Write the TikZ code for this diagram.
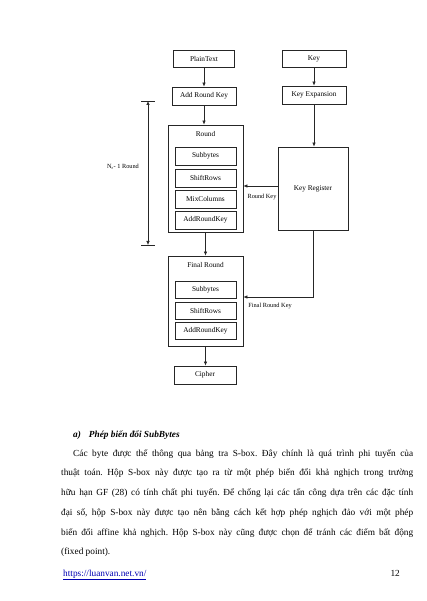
\documentclass[tikz,border=0pt]{standalone}
\usepackage{fontspec}
\setmainfont{Liberation Serif}
\usetikzlibrary{arrows.meta,positioning}
\frenchspacing
\begin{document}
\begin{tikzpicture}[x=1pt,y=-1pt,
  box/.style={draw=black!85,line width=0.8pt,minimum height=17pt,inner sep=0pt,font=\fontsize{7.3}{8}\selectfont},
  outer/.style={draw=black!85,line width=0.8pt,inner sep=0pt},
  lbl/.style={font=\fontsize{7.3}{8}\selectfont,inner sep=0pt},
  small/.style={font=\fontsize{6.3}{7}\selectfont,inner sep=0pt},
  arr/.style={draw=black!85,line width=0.6pt,-{Latex[length=4pt,width=3.5pt]}},
  ln/.style={draw=black!85,line width=0.6pt},
  body/.style={font=\fontsize{9.3}{11}\selectfont,inner sep=0pt,anchor=base west}]
\useasboundingbox (0,0) rectangle (426,601);
% top row
\node[box,minimum width=61pt] (pt) at (204,59) {PlainText};
\node[box,minimum width=64pt] (key) at (314,59) {Key};
\node[box,minimum width=64pt,minimum height=18pt] (ark) at (204,96) {Add Round Key};
\node[box,minimum width=64pt,minimum height=18pt] (kexp) at (314,95) {Key Expansion};
% Round
\node[outer,minimum width=75pt,minimum height=107pt] (round) at (205.5,178.5) {};
\node[lbl] (roundl) at (205.5,134) {Round};
\node[box,minimum width=61pt,minimum height=18pt] (sb1) at (205.5,156) {Subbytes};
\node[box,minimum width=61pt,minimum height=18pt] (sr1) at (205.5,178) {ShiftRows};
\node[box,minimum width=61pt,minimum height=18pt] (mc1) at (205.5,199) {MixColumns};
\node[box,minimum width=61pt,minimum height=18pt] (ak1) at (205.5,220) {AddRoundKey};
% Key register
\node[outer,minimum width=70pt,minimum height=83pt,font=\fontsize{7.3}{8}\selectfont] (kreg) at (313,188.5) {Key Register};
% Final round
\node[outer,minimum width=75pt,minimum height=90pt] (fround) at (205.5,301) {};
\node[lbl] (froundl) at (205.5,265) {Final Round};
\node[box,minimum width=61pt] (sb2) at (205.5,289.5) {Subbytes};
\node[box,minimum width=61pt] (sr2) at (205.5,310.5) {ShiftRows};
\node[box,minimum width=61pt] (ak2) at (205.5,330.5) {AddRoundKey};
\node[box,minimum width=62pt,minimum height=18pt] (ciph) at (205,375) {Cipher};
% arrows
\draw[arr] (pt.south) -- (ark.north);
\draw[arr] (key.south) -- (key.south |- kexp.north);
\draw[arr] (ark.south) -- (ark.south |- round.north);
\draw[arr] (kexp.south) -- (kexp.south |- kreg.north);
\draw[arr] (kreg.west |- 0,186) -- (round.east |- 0,186);
\node[small] (rk) at (262,197) {Round Key};
\draw[arr] (round.south) -- (fround.north);
\draw[arr] (fround.south) -- (fround.south |- ciph.north);
\coordinate (kc) at (313,297);
\draw[arr] (kreg.south) -- (kc) -- (fround.east |- kc);
\node[small] (frk) at (270,306) {Final Round Key};
% loop
\coordinate (lt) at (148,101);
\coordinate (lb) at (148,245);
\draw[ln,{Latex[length=4pt,width=3.5pt]}-{Latex[length=4pt,width=3.5pt]}] (lt) -- (lb);
\draw[ln,line width=0.8pt] ([xshift=-7pt]lt) -- ([xshift=7pt]lt);
\draw[ln,line width=0.8pt] ([xshift=-7pt]lb) -- ([xshift=7pt]lb);
\node[small] (nr) at (123,167) {N\textsubscript{r}- 1 Round};
% text
\node[body,font=\fontsize{9.3}{11}\selectfont\bfseries\itshape] (h) at (73,437) {a)\hspace{8pt}Phép biến đổi SubBytes};
\node[body] (l1) at (73,456) {\makebox[340pt][s]{Các byte được thế thông qua bảng tra S-box. Đây chính là quá trình phi tuyến của}};
\node[body] (l2) at (61,475.5) {\makebox[352pt][s]{thuật toán. Hộp S-box này được tạo ra từ một phép biến đổi khả nghịch trong trường}};
\node[body] (l3) at (61,495) {\makebox[352pt][s]{hữu hạn GF (28) có tính chất phi tuyến. Để chống lại các tấn công dựa trên các đặc tính}};
\node[body] (l4) at (61,515) {\makebox[352pt][s]{đại số, hộp S-box này được tạo nên bằng cách kết hợp phép nghịch đảo với một phép}};
\node[body] (l5) at (61,535) {\makebox[352pt][s]{biến đổi affine khả nghịch. Hộp S-box này cũng được chọn để tránh các điểm bất động}};
\node[body] (l6) at (61,554.5) {(fixed point).};
\node[body,text=blue!70!black] (url) at (63,576) {\underline{https://luanvan.net.vn/}};
\node[body,anchor=base east] (pg) at (400,576) {12};
\end{tikzpicture}
\end{document}
